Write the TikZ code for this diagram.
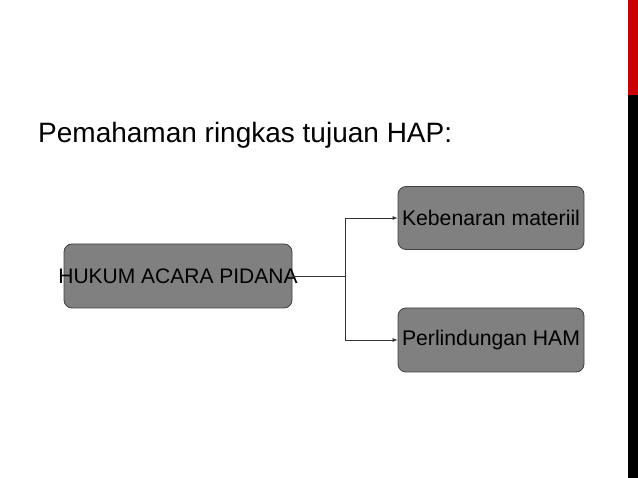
\documentclass[tikz,border=0pt]{standalone}
\usepackage{fontspec}
\setmainfont{Liberation Sans}
\usetikzlibrary{arrows.meta}

\tikzset{
  kotak/.style = {draw=black!75, fill=black!50, rounded corners=8pt, line width=0.8pt, inner sep=0pt},
  panah/.style = {draw=black!80, line width=0.8pt, -{Latex[length=5pt,width=4pt]}}
}

\begin{document}
\begin{tikzpicture}[x=1pt, y=-1pt]
\useasboundingbox (0,0) rectangle (638,478);
% garis tepi kanan
\fill[red!80!black] (628,0) rectangle (638,95);
\fill[black] (628,95) rectangle (638,478);
% judul
\node[anchor=base west, inner sep=0pt, font=\fontsize{28}{32}\selectfont] (judul) at (38,143) {Pemahaman ringkas tujuan HAP:};
% kotak
\node[kotak, minimum width=228pt, minimum height=64pt, label={[font=\fontsize{21}{25}\selectfont]center:HUKUM ACARA PIDANA}] (hap) at (178,276) {};
\node[kotak, minimum width=186pt, minimum height=63pt, font=\fontsize{21.2}{25}\selectfont] (materiil) at (491,218) {Kebenaran materiil};
\node[kotak, minimum width=186pt, minimum height=64pt, font=\fontsize{21.2}{25}\selectfont] (ham) at (491,340) {Perlindungan HAM};
\coordinate (cabang) at (345,276);
\draw[draw=black!80, line width=0.8pt] (hap) -- (cabang);
\draw[panah] (cabang) |- (materiil);
\draw[panah] (cabang) |- (ham);
\end{tikzpicture}
\end{document}
